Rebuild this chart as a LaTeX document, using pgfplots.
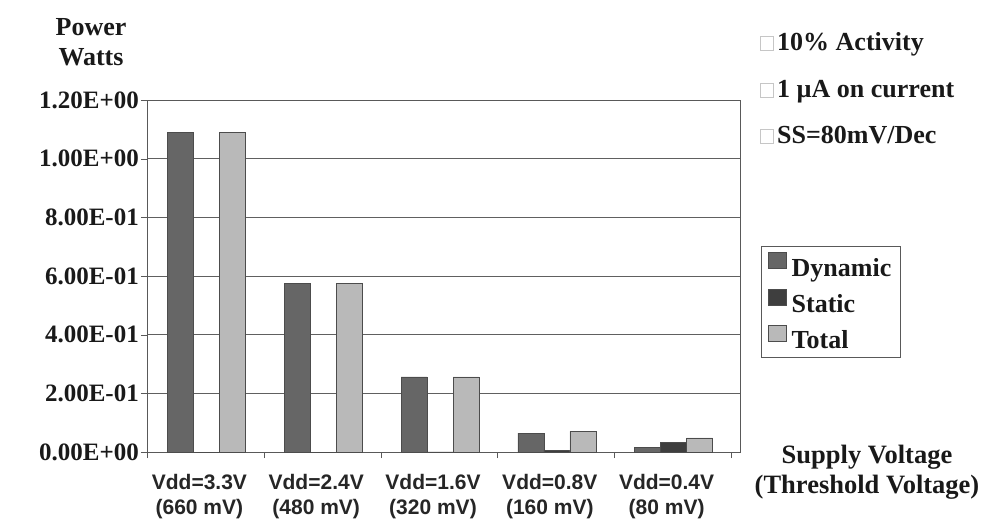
\documentclass[border=0pt]{standalone}
\usepackage{pgfplots}
\pgfplotsset{compat=1.18}
\usepackage{fontspec}
\setmainfont{Liberation Serif}
\newfontfamily\arialfont{Liberation Sans}
\definecolor{cdyn}{HTML}{666666}
\definecolor{csta}{HTML}{3E3E3E}
\definecolor{ctot}{HTML}{B9B9B9}
\begin{document}
\begin{tikzpicture}
\path[use as bounding box] (0,0) rectangle (1006pt,-528pt);
\begin{axis}[
  at={(147pt,-452pt)}, anchor=south west,
  scale only axis, width=593pt, height=352pt,
  xmin=-0.5, xmax=4.577, ymin=0, ymax=1.2,
  axis line style={gray!70!black, line width=0.8pt},
  ybar, bar width=26pt,
  ymajorgrids, grid style={gray!75!black, line width=0.8pt},
  ytick={0,0.2,0.4,0.6,0.8,1.0,1.2},
  yticklabels={0.00E+00,2.00E-01,4.00E-01,6.00E-01,8.00E-01,1.00E+00,1.20E+00},
  yticklabel style={font=\fontsize{25}{28}\selectfont\bfseries, inner xsep=2pt, text=black!90},
  xtick={-0.5,0.5,1.5,2.5,3.5,4.5},
  xticklabels={},
  extra x ticks={0,1,2,3,4},
  extra x tick labels={{Vdd=3.3V\\(660 mV)},{Vdd=2.4V\\(480 mV)},{Vdd=1.6V\\(320 mV)},{Vdd=0.8V\\(160 mV)},{Vdd=0.4V\\(80 mV)}},
  extra x tick style={major tick length=0pt,
    xticklabel style={font=\arialfont\fontsize{21}{25}\selectfont\bfseries, align=center, xshift=-6pt, yshift=-19pt, text=black!85}},
  tick align=outside, tick pos=left,
  major tick length=6pt,
  tick style={gray!70!black},
  legend style={at={(1.035,0.585)}, anchor=north west, draw=gray!70!black, line width=0.8pt,
    font=\fontsize{26}{30}\selectfont\bfseries, text=black!90, inner xsep=7pt, inner ysep=6pt, row sep=9pt, column sep=3pt},
  legend cell align=left,
  legend image code/.code={\draw[#1, draw=gray!60!black, line width=0.5pt] (0pt,-1pt) rectangle (18pt,15pt);},
]
\addplot[fill=cdyn, draw=black!70, bar shift=-25pt] coordinates {(0,1.089) (1,0.576) (2,0.256) (3,0.064) (4,0.016)};
\addplot[fill=csta, draw=black!70, bar shift=1pt] coordinates {(0,0.0000001) (1,0.000002) (2,0.00013) (3,0.0064) (4,0.032)};
\addplot[fill=ctot, draw=black!70, bar shift=27pt] coordinates {(0,1.089) (1,0.576) (2,0.2561) (3,0.0704) (4,0.048)};
\legend{Dynamic,Static,Total}
\end{axis}
\begin{scope}[every node/.style={anchor=base, inner sep=0pt, font=\fontsize{26}{30}\selectfont\bfseries, text=black!90}]
\node at (91pt,-35pt) {Power};
\node at (91pt,-65pt) {Watts};
\node[font=\fontsize{26.5}{30}\selectfont\bfseries] at (867pt,-463pt) {Supply Voltage};
\node[font=\fontsize{26.5}{30}\selectfont\bfseries] at (867pt,-493pt) {(Threshold Voltage)};
\end{scope}
\foreach \yy/\txt in {50/{10\% Activity}, 97/{1 µA on current}, 143/{SS=80mV/Dec}}{
  \draw[gray!45, line width=0.6pt] (760pt,-\yy pt) rectangle (773pt,-\yy pt+14pt);
  \node[anchor=base west, inner sep=0pt, font=\fontsize{26}{30}\selectfont\bfseries, text=black!90] at (777pt,-\yy pt) {\txt};
}
\end{tikzpicture}
\end{document}
